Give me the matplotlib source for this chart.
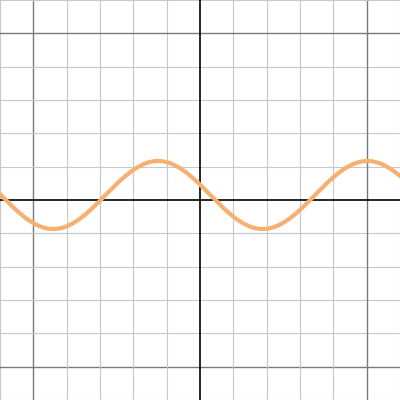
import numpy as np
import matplotlib
matplotlib.use("Agg")
import matplotlib.pyplot as plt

# curve parameters: y = amp*cos(x - peak_x) + offset
amp = 1.02
peak_x = -1.26
offset = 0.15
x_range = [-6, 6]
y_range = [-6, 6]
minor_ticks = list(range(-6, 7))
major_ticks = [-5, 5]

fig = plt.figure(figsize=(4, 4), dpi=100)
ax = fig.add_axes([0, 0, 1, 1])
ax.set_xlim(*x_range)
ax.set_ylim(*y_range)
for t in minor_ticks:
    c, lw = ('#c8c8c8', 0.8)
    if t in major_ticks:
        c, lw = ('#7a7a7a', 1.0)
    if t == 0:
        continue
    ax.axvline(t, color=c, lw=lw, zorder=1)
    ax.axhline(t, color=c, lw=lw, zorder=1)
ax.axvline(0, color='black', lw=1.2, zorder=2)
ax.axhline(0, color='black', lw=1.2, zorder=2)

x = np.linspace(-6, 6, 600)
y = amp * np.cos(x - peak_x) + offset
ax.plot(x, y, color='#f7b072', lw=3, zorder=3, solid_capstyle='round')
for s in ax.spines.values():
    s.set_visible(False)
ax.set_xticks([]); ax.set_yticks([])
fig.savefig('out.png', dpi=100)
